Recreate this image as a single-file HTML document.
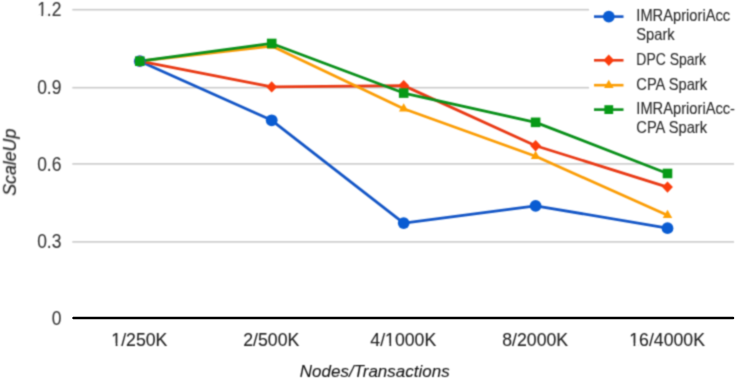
<!DOCTYPE html>
<html><head><meta charset="utf-8"><style>
html,body{margin:0;padding:0;background:#fff;}
svg{display:block;}
</style></head><body>
<svg width="738" height="380" viewBox="0 0 738 380">
<rect width="738" height="380" fill="#fff"/>
<defs><filter id="bl" filterUnits="userSpaceOnUse" x="0" y="0" width="738" height="380" color-interpolation-filters="sRGB"><feConvolveMatrix order="3" kernelMatrix="0.0400 0.1200 0.0400 0.1200 0.3600 0.1200 0.0400 0.1200 0.0400" edgeMode="duplicate"/></filter></defs><g filter="url(#bl)">
<rect x="72.3" y="8.90" width="516.7" height="1.6" fill="#cbcbcb"/>
<rect x="72.3" y="86.90" width="516.7" height="1.6" fill="#cbcbcb"/>
<rect x="72.3" y="163.10" width="661.7" height="1.6" fill="#cbcbcb"/>
<rect x="72.3" y="241.10" width="661.7" height="1.6" fill="#cbcbcb"/>
<polyline points="139.80,61.20 271.70,120.29 403.70,223.05 535.60,205.83 667.50,228.19" fill="none" stroke="#1456c6" stroke-width="2.8" stroke-linejoin="round" stroke-linecap="round"/>
<polyline points="139.80,61.20 271.70,86.89 403.70,85.61 535.60,145.72 667.50,187.08" fill="none" stroke="#e93a15" stroke-width="2.8" stroke-linejoin="round" stroke-linecap="round"/>
<polyline points="139.80,61.20 271.70,46.04 403.70,108.73 535.60,156.25 667.50,215.34" fill="none" stroke="#fb9d06" stroke-width="2.8" stroke-linejoin="round" stroke-linecap="round"/>
<polyline points="139.80,61.20 271.70,43.47 403.70,93.06 535.60,122.34 667.50,173.47" fill="none" stroke="#0a901a" stroke-width="2.8" stroke-linejoin="round" stroke-linecap="round"/>
<circle cx="139.80" cy="61.20" r="5.9" fill="#0a5cd2"/>
<circle cx="271.70" cy="120.29" r="5.9" fill="#0a5cd2"/>
<circle cx="403.70" cy="223.05" r="5.9" fill="#0a5cd2"/>
<circle cx="535.60" cy="205.83" r="5.9" fill="#0a5cd2"/>
<circle cx="667.50" cy="228.19" r="5.9" fill="#0a5cd2"/>
<path d="M139.80 55.50L145.20 61.20L139.80 66.90L134.40 61.20Z" fill="#fb3c0c"/>
<path d="M271.70 81.19L277.10 86.89L271.70 92.59L266.30 86.89Z" fill="#fb3c0c"/>
<path d="M403.70 79.91L409.10 85.61L403.70 91.31L398.30 85.61Z" fill="#fb3c0c"/>
<path d="M535.60 140.02L541.00 145.72L535.60 151.42L530.20 145.72Z" fill="#fb3c0c"/>
<path d="M667.50 181.38L672.90 187.08L667.50 192.78L662.10 187.08Z" fill="#fb3c0c"/>
<path d="M139.80 55.70L144.56 63.95L135.04 63.95Z" fill="#fda002"/>
<path d="M271.70 40.54L276.46 48.79L266.94 48.79Z" fill="#fda002"/>
<path d="M403.70 103.23L408.46 111.48L398.94 111.48Z" fill="#fda002"/>
<path d="M535.60 150.75L540.36 159.00L530.84 159.00Z" fill="#fda002"/>
<path d="M667.50 209.84L672.26 218.09L662.74 218.09Z" fill="#fda002"/>
<rect x="135.00" y="56.40" width="9.60" height="9.60" fill="#079a16"/>
<rect x="266.90" y="38.67" width="9.60" height="9.60" fill="#079a16"/>
<rect x="398.90" y="88.26" width="9.60" height="9.60" fill="#079a16"/>
<rect x="530.80" y="117.54" width="9.60" height="9.60" fill="#079a16"/>
<rect x="662.70" y="168.67" width="9.60" height="9.60" fill="#079a16"/>
<text transform="translate(61.4,16.40) scale(0.97,1.08)" text-anchor="end" font-size="18" fill="#383838" stroke="#383838" stroke-width="0.1" font-family="Liberation Sans, Arial, sans-serif">1.2</text>
<g transform="translate(61.4,16.40) scale(0.97,1.08)" fill="#fff"><rect x="-25.02" y="-2.16" width="4.46" height="3.24"/><rect x="-18.85" y="-2.16" width="3.42" height="3.24"/></g>
<text transform="translate(61.4,93.80) scale(0.97,1.08)" text-anchor="end" font-size="18" fill="#383838" stroke="#383838" stroke-width="0.1" font-family="Liberation Sans, Arial, sans-serif">0.9</text>
<text transform="translate(61.4,170.50) scale(0.97,1.08)" text-anchor="end" font-size="18" fill="#383838" stroke="#383838" stroke-width="0.1" font-family="Liberation Sans, Arial, sans-serif">0.6</text>
<text transform="translate(61.4,248.00) scale(0.97,1.08)" text-anchor="end" font-size="18" fill="#383838" stroke="#383838" stroke-width="0.1" font-family="Liberation Sans, Arial, sans-serif">0.3</text>
<text transform="translate(61.4,324.70) scale(0.97,1.08)" text-anchor="end" font-size="18" fill="#383838" stroke="#383838" stroke-width="0.1" font-family="Liberation Sans, Arial, sans-serif">0</text>
<text x="139.4" y="345.5" text-anchor="middle" font-size="17.7" fill="#222222" stroke="#222222" stroke-width="0.1" font-family="Liberation Sans, Arial, sans-serif">1/250K</text>
<g fill="#fff"><rect x="111.35" y="343.38" width="4.39" height="3.19"/><rect x="117.43" y="343.38" width="3.36" height="3.19"/></g>
<text x="271.3" y="345.5" text-anchor="middle" font-size="17.7" fill="#222222" stroke="#222222" stroke-width="0.1" font-family="Liberation Sans, Arial, sans-serif">2/500K</text>
<text x="403.3" y="345.5" text-anchor="middle" font-size="17.7" fill="#222222" stroke="#222222" stroke-width="0.1" font-family="Liberation Sans, Arial, sans-serif">4/1000K</text>
<g fill="#fff"><rect x="385.10" y="343.38" width="4.39" height="3.19"/><rect x="391.17" y="343.38" width="3.36" height="3.19"/></g>
<text x="535.2" y="345.5" text-anchor="middle" font-size="17.7" fill="#222222" stroke="#222222" stroke-width="0.1" font-family="Liberation Sans, Arial, sans-serif">8/2000K</text>
<text x="667.1" y="345.5" text-anchor="middle" font-size="17.7" fill="#222222" stroke="#222222" stroke-width="0.1" font-family="Liberation Sans, Arial, sans-serif">16/4000K</text>
<g fill="#fff"><rect x="629.21" y="343.38" width="4.39" height="3.19"/><rect x="635.28" y="343.38" width="3.36" height="3.19"/></g>
<text x="374.7" y="376.5" text-anchor="middle" font-size="17" font-style="italic" fill="#151515" stroke="#151515" stroke-width="0.1" font-family="Liberation Sans, Arial, sans-serif">Nodes/Transactions</text>
<text transform="translate(15.9,162.3) rotate(-90)" text-anchor="middle" font-size="17.8" font-style="italic" fill="#151515" stroke="#151515" stroke-width="0.1" font-family="Liberation Sans, Arial, sans-serif">ScaleUp</text>
<rect x="594" y="15.30" width="29.5" height="2.6" fill="#1456c6"/>
<circle cx="608.80" cy="16.60" r="5.9" fill="#0a5cd2"/>
<text transform="translate(636.3,21.40) scale(1,1.08)" font-size="14.7" fill="#2a2a2a" stroke="#2a2a2a" stroke-width="0.1" font-family="Liberation Sans, Arial, sans-serif">IMRAprioriAcc</text>
<text transform="translate(636.3,39.80) scale(1,1.08)" font-size="14.7" fill="#2a2a2a" stroke="#2a2a2a" stroke-width="0.1" font-family="Liberation Sans, Arial, sans-serif">Spark</text>
<rect x="594" y="59.00" width="29.5" height="2.6" fill="#e93a15"/>
<path d="M608.80 54.60L614.20 60.30L608.80 66.00L603.40 60.30Z" fill="#fb3c0c"/>
<text transform="translate(636.3,65.00) scale(1,1.08)" font-size="14.7" textLength="69.8" lengthAdjust="spacingAndGlyphs" fill="#2a2a2a" stroke="#2a2a2a" stroke-width="0.1" font-family="Liberation Sans, Arial, sans-serif">DPC Spark</text>
<rect x="594" y="83.90" width="29.5" height="2.6" fill="#fb9d06"/>
<path d="M608.80 79.70L613.56 87.95L604.04 87.95Z" fill="#fda002"/>
<text transform="translate(636.3,89.90) scale(1,1.08)" font-size="14.7" fill="#2a2a2a" stroke="#2a2a2a" stroke-width="0.1" font-family="Liberation Sans, Arial, sans-serif">CPA Spark</text>
<rect x="594" y="108.30" width="29.5" height="2.6" fill="#0a901a"/>
<rect x="604.40" y="105.20" width="8.80" height="8.80" fill="#079a16"/>
<text transform="translate(636.3,114.30) scale(1,1.08)" font-size="14.7" fill="#2a2a2a" stroke="#2a2a2a" stroke-width="0.1" font-family="Liberation Sans, Arial, sans-serif">IMRAprioriAcc-</text>
<text transform="translate(636.3,132.70) scale(1,1.08)" font-size="14.7" fill="#2a2a2a" stroke="#2a2a2a" stroke-width="0.1" font-family="Liberation Sans, Arial, sans-serif">CPA Spark</text>
</g>
<rect x="72.3" y="316.65" width="661.9" height="2.7" rx="1" fill="#000"/>
</svg>
</body></html>
